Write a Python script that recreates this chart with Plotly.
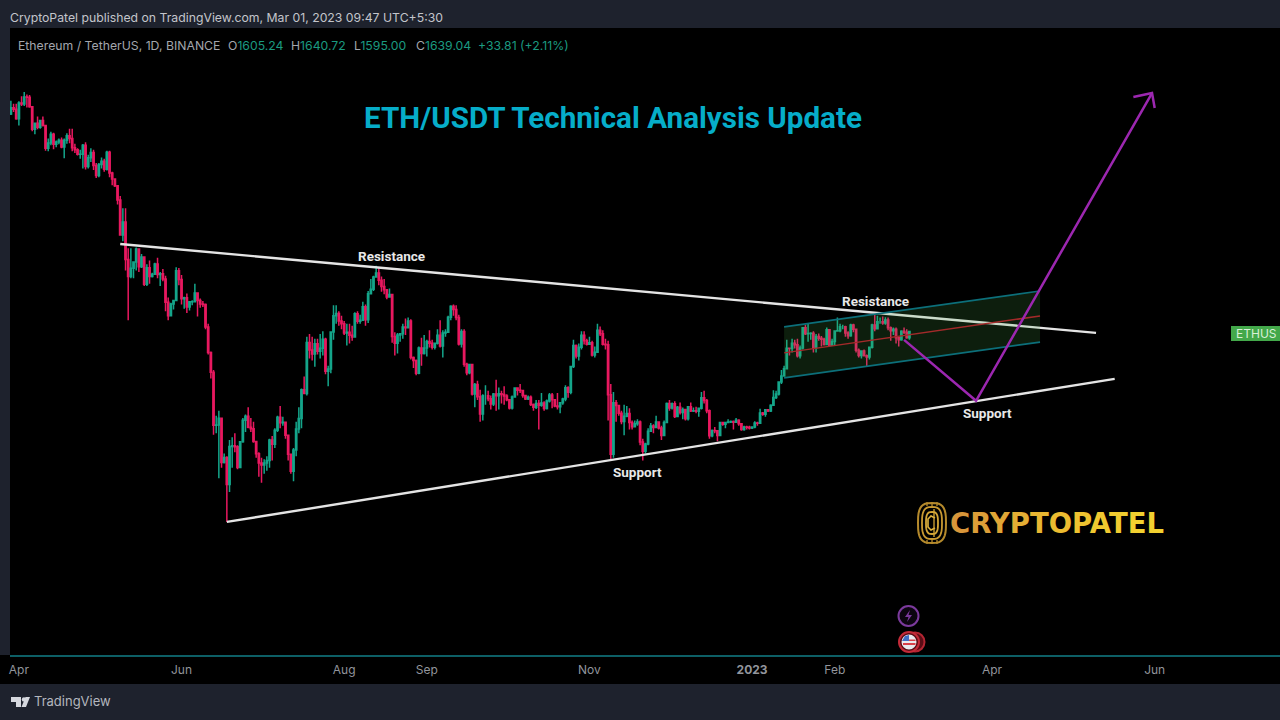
import plotly.graph_objects as go
import pandas as pd
import math

START_DATE = "2022-03-29"
FIRST_OPEN = 3331.0

CLOSE = [
 3400,3385,3281,
 3455,3443,3522,3520,3411,3171,3233,3190,3262,3210,2980,3031,3118,3020,3040,3058,2992,3058,3103,3076,2985,2965,2922,2923,3008,2808,2888,2938,2817,2726,
 2826,2857,2782,2940,2748,2695,2637,2517,2245,2343,2072,1960,2014,2056,2145,2024,2090,1912,2017,1960,1975,2043,1973,1979,1945,1803,1725,1793,1813,1997,1942,
 1823,1829,1775,1805,1806,1858,1813,1793,1790,1663,1530,1434,1207,1208,1234,1068,1086,994,1126,1128,1125,1051,1143,1226,1243,1199,1193,1144,1099,1067,
 1060,1067,1075,1150,1134,1187,1238,1216,1218,1168,1098,1038,1113,1192,1233,1355,1338,1581,1542,1522,1574,1536,1551,1598,1439,1450,1636,1725,1737,1696,1680,
 1631,1634,1619,1609,1736,1694,1700,1776,1702,1853,1880,1958,1983,1936,1898,1877,1834,1849,1612,1577,1620,1626,1663,1658,1696,1505,1491,1430,1553,1525,1553,
 1586,1577,1556,1577,1618,1563,1630,1635,1716,1779,1761,1715,1573,1638,1472,1432,1471,1336,1378,1324,1252,1328,1328,1316,1293,1336,1329,1337,1334,1327,
 1311,1276,1323,1362,1352,1351,1330,1314,1322,1291,1280,1295,1288,1297,1274,1306,1332,1311,1285,1282,1299,1314,1364,1344,1461,1565,1512,1556,1619,1590,1572,
 1579,1517,1531,1645,1627,1572,1569,1333,1098,1299,1287,1255,1221,1242,1254,1217,1201,1212,1219,1142,1108,1135,1183,1204,1198,1219,1196,1167,1217,1295,
 1276,1294,1241,1280,1258,1270,1232,1282,1264,1265,1263,1275,1320,1308,1265,1166,1186,1185,1167,1217,1210,1217,1219,1221,1218,1226,1212,1190,1200,1199,1196,
 1200,1215,1214,1256,1251,1269,1264,1288,1321,1336,1389,1417,1451,1551,1550,1577,1569,1514,1552,1658,1627,1628,1629,1555,1612,1603,1598,1571,1648,1566,1586,
 1641,1643,1664,1664,1630,1616,1673,1651,1541,1515,1538,1514,1507,1556,1674,1653,1692,1692,1684,1701,1659,1642,1650,1606,1595,1640,1634,1605.24,
 1639.04]

HIGH = [
 3480,3446,3445,
 3475,3530,3580,3550,3545,3410,3240,3305,3270,3305,3215,3075,3145,3135,3055,3075,3085,3075,3130,3175,3175,3025,2980,2965,3022,3038,2918,2980,2965,2840,
 2840,2890,2880,2955,2955,2760,2700,2640,2550,2450,2450,2150,2150,2060,2155,2145,2110,2095,2040,2065,1985,2050,2085,1990,2010,1965,1830,1800,1815,2020,2015,
 1970,1835,1855,1805,1815,1915,1820,1825,1810,1795,1680,1535,1445,1245,1265,1235,1100,1090,1150,1160,1175,1130,1145,1235,1250,1280,1235,1220,1145,1105,
 1085,1080,1090,1155,1165,1195,1245,1285,1240,1220,1170,1100,1120,1220,1280,1360,1415,1610,1625,1610,1600,1600,1625,1640,1605,1465,1640,1785,1785,1750,1725,
 1695,1680,1680,1670,1745,1750,1730,1805,1790,1870,1945,1965,2030,2020,1960,1945,1880,1885,1850,1635,1630,1630,1680,1710,1715,1705,1510,1495,1560,1605,1620,
 1595,1645,1595,1580,1650,1700,1645,1650,1725,1785,1790,1785,1730,1650,1650,1480,1475,1472,1385,1395,1355,1335,1375,1350,1330,1340,1400,1365,1350,1370,
 1335,1315,1330,1365,1365,1380,1355,1330,1330,1330,1295,1310,1310,1340,1305,1312,1340,1340,1315,1340,1302,1320,1375,1370,1465,1595,1570,1575,1640,1640,1600,
 1610,1590,1560,1680,1665,1645,1600,1590,1380,1345,1310,1290,1265,1290,1285,1275,1225,1225,1230,1225,1155,1140,1195,1215,1210,1245,1220,1205,1225,1300,
 1310,1300,1305,1285,1300,1278,1272,1285,1300,1278,1282,1277,1345,1350,1315,1270,1190,1200,1175,1220,1218,1220,1230,1225,1225,1235,1230,1215,1205,1205,1205,
 1203,1222,1220,1273,1260,1272,1269,1292,1353,1350,1390,1445,1465,1595,1555,1600,1595,1600,1565,1660,1675,1680,1635,1640,1625,1628,1615,1605,1660,1650,1600,
 1645,1715,1680,1675,1670,1640,1680,1680,1655,1550,1540,1545,1520,1560,1680,1742,1725,1715,1720,1716,1715,1665,1660,1660,1610,1645,1660,1650,
 1640.72]

LOW = [
 3320,3355,3270,
 3210,3420,3420,3405,3400,3150,3120,3170,3175,3200,2955,2950,3010,2970,2990,3020,2980,2885,3025,3030,2950,2935,2910,2880,2790,2780,2790,2850,2775,2705,
 2710,2790,2760,2770,2710,2640,2625,2480,2240,2200,2000,1700,1950,1950,2000,1990,2015,1900,1900,1915,1955,1970,1950,1900,1930,1750,1700,1720,1760,1810,1905,
 1790,1765,1740,1755,1785,1805,1720,1770,1775,1650,1520,1405,1170,1175,1015,1050,1065,880,970,1050,1105,1045,1050,1140,1180,1195,1180,1140,1085,1020,
 1000,1030,1040,1050,1075,1120,1180,1195,1205,1155,1075,1030,1005,1090,1175,1195,1335,1330,1500,1490,1460,1520,1500,1515,1425,1370,1430,1595,1680,1670,1650,
 1620,1565,1575,1590,1605,1680,1680,1695,1670,1685,1850,1870,1960,1905,1865,1850,1820,1830,1580,1515,1525,1585,1600,1620,1655,1495,1455,1420,1425,1465,1520,
 1510,1555,1545,1545,1570,1555,1505,1610,1635,1700,1725,1700,1565,1555,1460,1420,1425,1330,1280,1310,1220,1225,1290,1305,1270,1285,1265,1270,1295,1290,
 1305,1270,1270,1322,1330,1340,1320,1310,1310,1285,1265,1272,1190,1282,1265,1270,1300,1275,1280,1270,1255,1290,1305,1320,1335,1455,1500,1490,1545,1570,1565,
 1570,1510,1505,1530,1615,1565,1545,1225,1075,1085,1220,1245,1210,1168,1238,1190,1190,1198,1205,1130,1075,1100,1130,1180,1175,1195,1190,1150,1165,1215,
 1265,1270,1235,1240,1250,1230,1225,1225,1260,1260,1255,1240,1270,1295,1255,1155,1160,1175,1145,1165,1205,1195,1215,1215,1190,1215,1205,1185,1185,1190,1190,
 1192,1195,1205,1212,1245,1240,1260,1260,1285,1315,1330,1380,1415,1450,1515,1530,1550,1505,1500,1545,1620,1585,1595,1530,1530,1590,1560,1565,1568,1560,1565,
 1565,1640,1635,1650,1610,1600,1610,1635,1530,1505,1500,1510,1460,1495,1550,1640,1650,1680,1675,1675,1645,1590,1620,1575,1560,1590,1625,1600,
 1595.0]

OPEN = [FIRST_OPEN] + CLOSE[:-1]
DATES = pd.date_range(START_DATE, periods=len(CLOSE), freq="D")

RES_X = ["2022-05-09", "2023-05-10"];  RES_Y = [2180, 1631]
SUP_X = ["2022-06-18", "2023-05-17"];  SUP_Y = [880, 1404]
CH_X = ["2023-01-13", "2023-04-19"]
CH_TOP = [1663, 1870]
CH_MID = [1528, 1724]
CH_LOW = [1408, 1583]
PATH_X = ["2023-02-27", "2023-03-26", "2023-05-31"]
PATH_Y = [1594, 1307, 3568]
HEAD_X = ["2023-05-24", "2023-05-31", "2023-06-01"]
HEAD_Y = [3522, 3568, 3398]

TICK_VALS = ["2022-04-01","2022-06-01","2022-08-01","2022-09-01","2022-11-01","2023-01-01","2023-02-01","2023-04-01","2023-06-01"]
TICK_TEXT = ["Apr","Jun","Aug","Sep","Nov","<b>2023</b>","Feb","Apr","Jun"]
X_RANGE = ["2022-03-28 16:00", "2023-07-18"]
Y_RANGE = [math.log10(570), math.log10(4412)]

W, H = 1280, 720
def px(x): return x / W
def py(y): return 1 - y / H

PANEL = "#1e222d"
UP = "#14a58a"; DOWN = "#e8185f"

fig = go.Figure()
fig.add_trace(go.Candlestick(x=DATES, open=OPEN, high=HIGH, low=LOW, close=CLOSE, whiskerwidth=0,
    increasing=dict(line=dict(color=UP, width=1.5), fillcolor=UP),
    decreasing=dict(line=dict(color=DOWN, width=1.5), fillcolor=DOWN),
    showlegend=False, hoverinfo="skip"))
def line(x, y, color, width):
    fig.add_trace(go.Scatter(x=x, y=y, mode="lines", line=dict(color=color, width=width), showlegend=False, hoverinfo="skip"))
line(RES_X, RES_Y, "#e4e4e4", 2.4)
line(SUP_X, SUP_Y, "#e4e4e4", 2.4)
fig.add_trace(go.Scatter(x=CH_X + CH_X[::-1], y=CH_TOP + CH_LOW[::-1], fill="toself", fillcolor="rgba(76,175,80,0.17)",
    mode="none", showlegend=False, hoverinfo="skip"))
line(CH_X, CH_TOP, "#0c6f7a", 1.7)
line(CH_X, CH_LOW, "#0c6f7a", 1.7)
line(CH_X, CH_MID, "#a32a2a", 1.5)
line(PATH_X, PATH_Y, "#9c27b0", 2.5)
line(HEAD_X, HEAD_Y, "#9c27b0", 2.5)

shapes = []
def rect(x0, y0, x1, y1, fill, layer="below"):
    shapes.append(dict(type="rect", xref="paper", yref="paper", x0=px(x0), x1=px(x1), y0=py(y0), y1=py(y1),
                       fillcolor=fill, line_width=0, layer=layer))
def circle(cx, cy, r, fill="rgba(0,0,0,0)", stroke="rgba(0,0,0,0)", w=0):
    shapes.append(dict(type="circle", xref="paper", yref="paper", x0=px(cx-r), x1=px(cx+r), y0=py(cy-r), y1=py(cy+r),
                       fillcolor=fill, line=dict(color=stroke, width=w), layer="above"))
def poly(points, fill=None, stroke=None, w=0, close=True):
    d = "M " + " L ".join(f"{px(a):.5f},{py(b):.5f}" for a, b in points) + (" Z" if close else "")
    shapes.append(dict(type="path", xref="paper", yref="paper", path=d, fillcolor=fill or "rgba(0,0,0,0)",
                       line=dict(color=stroke or "rgba(0,0,0,0)", width=w), layer="above"))
def stadium(cx, cy, hw, hh, stroke, w):
    pts = []
    for i in range(0, 37):
        a = 2 * math.pi * i / 36
        c, s = math.cos(a), math.sin(a)
        ex = 3.0
        xx = cx + hw * math.copysign(abs(c) ** (2/ex), c)
        yy = cy + hh * math.copysign(abs(s) ** (2/ex), s)
        pts.append((xx, yy))
    poly(pts, stroke=stroke, w=w)

rect(0, 655, W, 684, "#000000")                      # time-axis strip
rect(1231, 326, W, 341, "#43a84a", "above")           # price tag

# CryptoPatel logo emblem
stadium(932, 523, 14, 20, "#b58a2c", 2.0)
stadium(932, 523, 10, 16, "#c99a32", 1.8)
stadium(932, 523, 6, 11, "#d4a637", 1.8)
poly([(935,518),(931,516),(928,519),(928,527),(931,530),(935,528)], stroke="#e0b540", w=1.6, close=False)
poly([(934,509),(934,537)], stroke="#d4a637", w=1.3, close=False)
for xx in (927, 932, 937):
    poly([(xx,502),(xx,506)], stroke="#b58a2c", w=1.3, close=False)
    poly([(xx,540),(xx,544)], stroke="#b58a2c", w=1.3, close=False)

# event icons
circle(908.5, 616, 10, "#0c0510", "#7b3a9c", 2)
poly([(910,610),(905,617),(908.5,617),(907,622),(912,615),(908.5,615)], fill="#7b3a9c")
circle(915, 642, 9.5, "#5a0d16", "#b32532", 2)
circle(909, 642, 10, "#5a0d16", "#c42a38", 2)
circle(909, 642, 7.5, "#e9e9ee")
rect(903, 639.5, 915.5, 641, "#d8404a", "above")
rect(903, 643, 915.5, 645, "#d8404a", "above")
poly([(902,641),(909,641),(909,635),(905,636)], fill="#3f6fc4")

# TradingView logo
poly([(11,697),(21,697),(21,707),(16,707),(16,702),(11,702)], fill="#d6d8de")
poly([(30,697),(26,707),(21.5,707),(25.5,697)], fill="#d6d8de")
circle(24, 699.4, 2.2, "#d6d8de")

anns = []
def text(x, y, s, size, color, anchor="center", family="Inter"):
    anns.append(dict(xref="paper", yref="paper", x=px(x), y=py(y), text=s, showarrow=False,
                     xanchor=anchor, yanchor="middle", font=dict(size=size, color=color, family=family)))

G = "#1b9a80"
text(8, 17, "CryptoPatel published on TradingView.com, Mar 01, 2023 09:47 UTC+5:30", 12.25, "#c3c5cb", "left")
text(16, 45, "Ethereum / TetherUS, 1D, BINANCE", 12.25, "#a3a6ad", "left")
for x0, lab, val in [(226, "O", "1605.24"), (289, "H", "1640.72"), (352, "L", "1595.00"), (414, "C", "1639.04")]:
    text(x0, 45, f"{lab}<span style='color:{G}'>{val}</span>", 12.25, "#a3a6ad", "left")
text(476, 45, "+33.81 (+2.11%)", 12.25, G, "left")
text(612.5, 118, "<b>ETH/USDT Technical Analysis Update</b>", 29.6, "#06adc9", family="Roboto")
for x0, y0, s in [(391, 256, "Resistance"), (875, 301, "Resistance"), (637, 472, "Support"), (987, 413, "Support")]:
    text(x0, y0, f"<b>{s}</b>", 13.5, "#e8e8e8", family="Roboto")
text(1234, 333.5, "ETHUS", 12, "#d8f0d8", "left")
text(32, 701, "TradingView", 13, "#b4b7be", "left")

logo = "CRYPTOPATEL"
logo_cols = ["#d8963a","#dc9e38","#e0a636","#e4ae34","#e8b632","#ecbc30","#eec230","#f0c830","#f0cc30","#f2d030","#f2d030"]
text(948, 523, "<b>" + "".join(f"<span style='color:{c}'>{ch}</span>" for ch, c in zip(logo, logo_cols)) + "</b>", 27.5, "#e8b632", "left", family="DejaVu Sans")

fig.update_layout(
    width=W, height=H, margin=dict(l=0, r=0, t=0, b=0), autosize=False,
    paper_bgcolor=PANEL, plot_bgcolor="#000000", showlegend=False,
    shapes=shapes, annotations=anns,
    xaxis=dict(domain=[px(10), 1], type="date", range=X_RANGE, rangeslider=dict(visible=False),
               tickmode="array", tickvals=TICK_VALS, ticktext=TICK_TEXT, ticks="", ticklabelstandoff=3,
               tickfont=dict(size=12, color="#92959c", family="Inter"), showgrid=False, zeroline=False,
               showline=True, linecolor="#0d5f66", linewidth=1.5, anchor="y"),
    yaxis=dict(domain=[py(655), py(28)], type="log", range=Y_RANGE, showgrid=False, zeroline=False,
               showticklabels=False, ticks="", showline=False),
)
fig.write_html("out.html", config=dict(displayModeBar=False),
               post_script="document.body.style.margin='0';document.documentElement.style.overflow='hidden';")
